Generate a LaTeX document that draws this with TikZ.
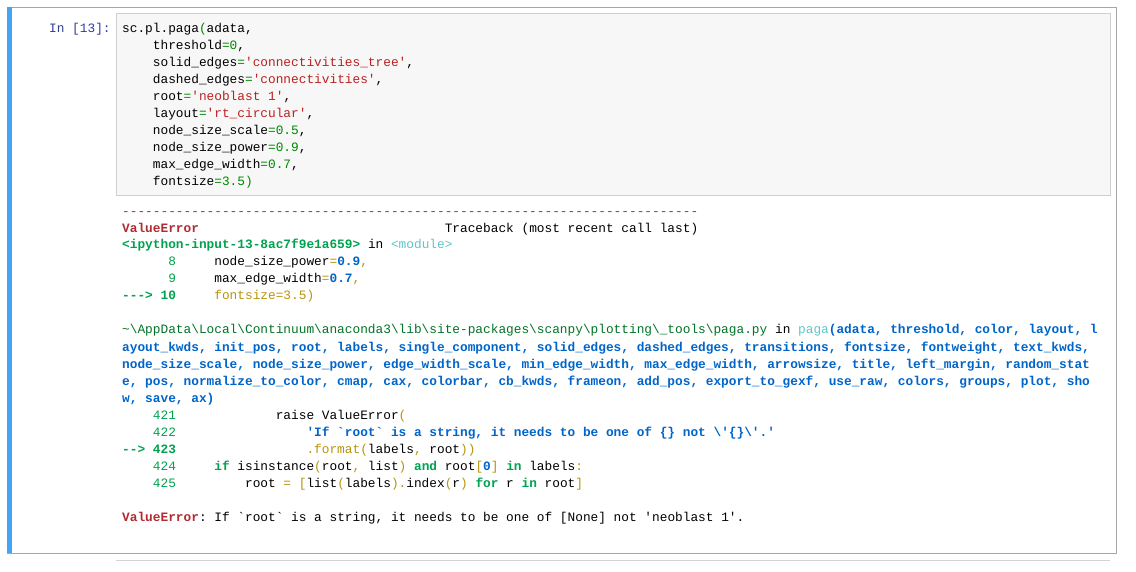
\documentclass[tikz,border=0pt]{standalone}
\usepackage{fontspec}
\setmonofont{Liberation Mono}
\definecolor{prm}{HTML}{303F9F}
\definecolor{cnum}{HTML}{008800}
\definecolor{cstr}{HTML}{BA2121}
\definecolor{ered}{HTML}{B22B31}
\definecolor{egrn}{HTML}{00A250}
\definecolor{edgrn}{HTML}{007427}
\definecolor{ecyan}{HTML}{60C6C8}
\definecolor{eblue}{HTML}{0065CA}
\definecolor{eyel}{HTML}{B7950B}
\definecolor{bar}{HTML}{42A5F5}
\newlength\cw \setlength\cw{7.68pt}
\newcommand\spc[1]{\hspace*{#1\cw}}
\newcommand\bs{\textbackslash}
\newcommand\us{\_}
\begin{document}
\begin{tikzpicture}[x=1pt,y=-1pt,
  ln/.style={anchor=base west,inner sep=0pt,font=\ttfamily\fontsize{12.8}{15}\selectfont}]
\useasboundingbox (0,0) rectangle (1136,572);
\fill[white] (0,0) rectangle (1136,572);
% cell
\draw[gray!70] (7.5,7.5) rectangle (1116,553);
\fill[bar] (7,7.5) rectangle (12,553);
\draw[gray!35] (116,560.5) -- (1110,560.5);
% input area
\draw[fill={rgb,255:red,247;green,247;blue,247},draw={rgb,255:red,207;green,207;blue,207}] (116.5,13.5) rectangle (1110,195);
\node[ln,text=prm] (prompt) at (49,33) {In [13]:};
% code
\node[ln] (c1) at (122,33) {sc.pl.paga\textcolor{cnum}{(}adata,};
\node[ln] (c2) at (122,50) {\spc4threshold\textcolor{cnum}{=0},};
\node[ln] (c3) at (122,67) {\spc4solid\us edges\textcolor{cnum}{=}\textcolor{cstr}{'connectivities\us tree'},};
\node[ln] (c4) at (122,84) {\spc4dashed\us edges\textcolor{cnum}{=}\textcolor{cstr}{'connectivities'},};
\node[ln] (c5) at (122,101) {\spc4root\textcolor{cnum}{=}\textcolor{cstr}{'neoblast 1'},};
\node[ln] (c6) at (122,118) {\spc4layout\textcolor{cnum}{=}\textcolor{cstr}{'rt\us circular'},};
\node[ln] (c7) at (122,135) {\spc4node\us size\us scale\textcolor{cnum}{=0.5},};
\node[ln] (c8) at (122,152) {\spc4node\us size\us power\textcolor{cnum}{=0.9},};
\node[ln] (c9) at (122,169) {\spc4max\us edge\us width\textcolor{cnum}{=0.7},};
\node[ln] (c10) at (122,186) {\spc4fontsize\textcolor{cnum}{=3.5)}};
% traceback
\node[ln,text=ered] (dash) at (122,216) {---------------------------------------------------------------------------};
\node[ln] (t1) at (122,233) {\textcolor{ered}{\bfseries ValueError}\spc{32}Traceback (most recent call last)};
\node[ln] (t2) at (122,249) {\textcolor{egrn}{\bfseries <ipython-input-13-8ac7f9e1a659>} in \textcolor{ecyan}{<module>}};
\node[ln] (t3) at (122,266) {\spc6\textcolor{egrn}{8}\spc5node\us size\us power\textcolor{eyel}{=}\textcolor{eblue}{\bfseries 0.9}\textcolor{eyel}{,}};
\node[ln] (t4) at (122,283) {\spc6\textcolor{egrn}{9}\spc5max\us edge\us width\textcolor{eyel}{=}\textcolor{eblue}{\bfseries 0.7}\textcolor{eyel}{,}};
\node[ln] (t5) at (122,300) {\textcolor{egrn}{\bfseries ---> 10}\spc5\textcolor{eyel}{fontsize=3.5)}};
\node[ln] (p1) at (122,334) {\textcolor{edgrn}{\textasciitilde\bs AppData\bs Local\bs Continuum\bs anaconda3\bs lib\bs site-packages\bs scanpy\bs plotting\bs\us tools\bs paga.py} in \textcolor{ecyan}{paga}\textcolor{eblue}{\bfseries(adata, threshold, color, layout, l}};
\node[ln,text=eblue,font=\ttfamily\bfseries\fontsize{12.8}{15}\selectfont] (p2) at (122,351) {ayout\us kwds, init\us pos, root, labels, single\us component, solid\us edges, dashed\us edges, transitions, fontsize, fontweight, text\us kwds,};
\node[ln,text=eblue,font=\ttfamily\bfseries\fontsize{12.8}{15}\selectfont] (p3) at (122,368) {node\us size\us scale, node\us size\us power, edge\us width\us scale, min\us edge\us width, max\us edge\us width, arrowsize, title, left\us margin, random\us stat};
\node[ln,text=eblue,font=\ttfamily\bfseries\fontsize{12.8}{15}\selectfont] (p4) at (122,385) {e, pos, normalize\us to\us color, cmap, cax, colorbar, cb\us kwds, frameon, add\us pos, export\us to\us gexf, use\us raw, colors, groups, plot, sho};
\node[ln,text=eblue,font=\ttfamily\bfseries\fontsize{12.8}{15}\selectfont] (p5) at (122,402) {w, save, ax)};
\node[ln] (l1) at (122,419) {\spc4\textcolor{egrn}{421}\spc{13}raise ValueError\textcolor{eyel}{(}};
\node[ln] (l2) at (122,436) {\spc4\textcolor{egrn}{422}\spc{17}\textcolor{eblue}{\bfseries 'If `root` is a string, it needs to be one of \{\} not \bs'\{\}\bs'.'}};
\node[ln] (l3) at (122,453) {\textcolor{egrn}{\bfseries --> 423}\spc{17}\textcolor{eyel}{.format(}labels\textcolor{eyel}{,} root\textcolor{eyel}{))}};
\node[ln] (l4) at (122,470) {\spc4\textcolor{egrn}{424}\spc5\textcolor{egrn}{\bfseries if} isinstance\textcolor{eyel}{(}root\textcolor{eyel}{,} list\textcolor{eyel}{)} \textcolor{egrn}{\bfseries and} root\textcolor{eyel}{[}\textcolor{eblue}{\bfseries 0}\textcolor{eyel}{]} \textcolor{egrn}{\bfseries in} labels\textcolor{eyel}{:}};
\node[ln] (l5) at (122,487) {\spc4\textcolor{egrn}{425}\spc9root \textcolor{eyel}{= [}list\textcolor{eyel}{(}labels\textcolor{eyel}{).}index\textcolor{eyel}{(}r\textcolor{eyel}{)} \textcolor{egrn}{\bfseries for} r \textcolor{egrn}{\bfseries in} root\textcolor{eyel}{]}};
\node[ln] (err) at (122,521) {\textcolor{ered}{\bfseries ValueError}: If `root` is a string, it needs to be one of [None] not 'neoblast 1'.};
\end{tikzpicture}
\end{document}
